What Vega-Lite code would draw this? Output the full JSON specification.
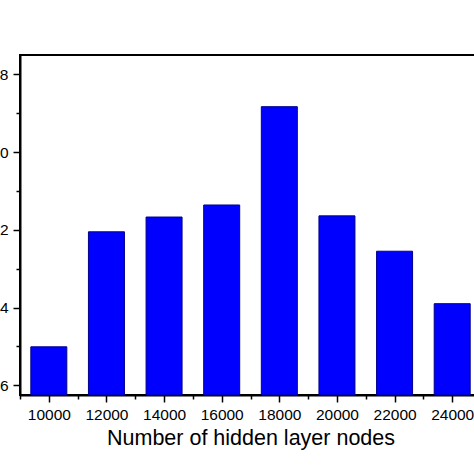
{
  "$schema": "https://vega.github.io/schema/vega-lite/v6.json",
  "autosize": "none",
  "padding": {"left": 20, "top": 55, "right": 0, "bottom": 79},
  "width": 461,
  "height": 340,
  "background": "white",
  "config": {
    "view": {"stroke": "#000", "strokeWidth": 2},
    "axis": {
      "domainColor": "#000", "domainWidth": 2, "tickColor": "#000", "tickWidth": 1.5,
      "labelFont": "Liberation Sans", "labelFontSize": 15.5, "labelColor": "#000",
      "titleFont": "Liberation Sans", "titleFontSize": 21.5, "titleFontWeight": "normal", "titleColor": "#000",
      "grid": false
    }
  },
  "data": {"values": [
    {"nodes": 10000, "value": -15.01},
    {"nodes": 12000, "value": -12.05},
    {"nodes": 14000, "value": -11.67},
    {"nodes": 16000, "value": -11.36},
    {"nodes": 18000, "value": -8.83},
    {"nodes": 20000, "value": -11.64},
    {"nodes": 22000, "value": -12.55},
    {"nodes": 24000, "value": -13.90}
  ]},
  "resolve": {"axis": {"x": "independent", "y": "independent"}},
  "layer": [
    {
      "mark": {"type": "bar", "size": 36, "color": "#0000FF", "stroke": "#00008B", "strokeWidth": 1},
      "encoding": {
        "x": {"field": "nodes", "type": "quantitative",
              "scale": {"domain": [9000, 25000], "nice": false, "zero": false, "padding": 0},
              "axis": {"orient": "bottom", "values": [10000, 12000, 14000, 16000, 18000, 20000, 22000, 24000],
                       "format": "d", "tickSize": 7, "labelPadding": 5, "title": "Number of hidden layer nodes",
                       "titlePadding": 5, "labelFlush": false, "labelOverlap": false}},
        "y": {"field": "value", "type": "quantitative",
              "scale": {"domain": [-16.25, -7.5], "nice": false, "zero": false, "padding": 0},
              "axis": {"orient": "left", "values": [-16, -14, -12, -10, -8], "format": "d",
                       "tickSize": 7, "labelPadding": 5, "title": null}},
        "y2": {"datum": -16.25}
      }
    },
    {
      "mark": {"type": "point", "opacity": 0},
      "encoding": {
        "x": {"field": "nodes", "type": "quantitative",
              "axis": {"orient": "bottom", "values": [9000, 11000, 13000, 15000, 17000, 19000, 21000, 23000, 25000],
                       "labels": false, "domain": false, "tickSize": 4, "title": null}},
        "y": {"field": "value", "type": "quantitative",
              "axis": {"orient": "left", "values": [-15, -13, -11, -9], "labels": false, "domain": false,
                       "tickSize": 4, "title": null}}
      }
    }
  ]
}
